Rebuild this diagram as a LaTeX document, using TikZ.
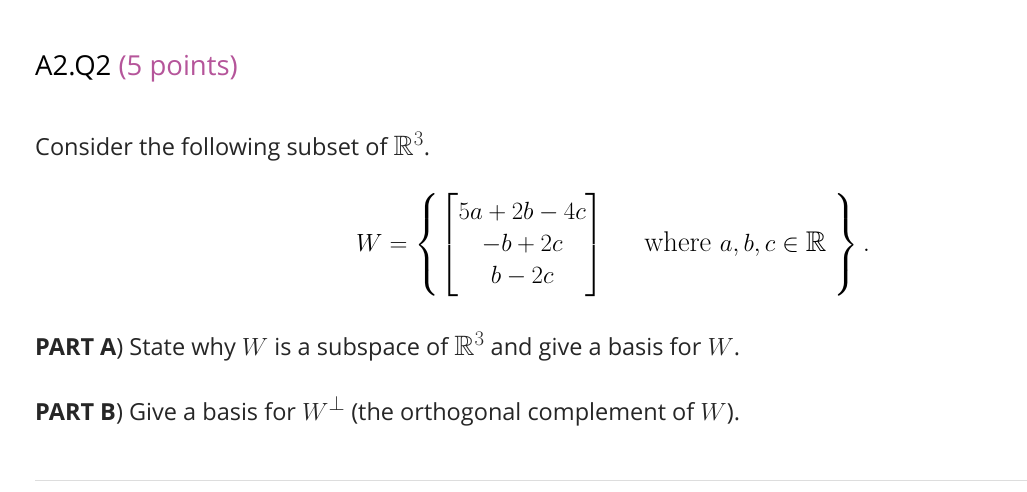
\documentclass[tikz,border=0pt]{standalone}
\usepackage{amsmath,amssymb}
\usepackage{fontspec}
\setmainfont{Open Sans}
\newfontfamily\lmr{Latin Modern Roman}
\definecolor{pts}{HTML}{B5559A}
\definecolor{rule}{HTML}{DDDDDD}
\newcommand{\mm}[1]{{\fontsize{28}{30}\selectfont$#1$}}
\begin{document}
\begin{tikzpicture}[x=1pt,y=1pt,txt/.style={anchor=base west,inner sep=0pt,font=\fontsize{23.5}{27}\selectfont\color{black!85}}]
\useasboundingbox (0,0) rectangle (1027,-491);
\node[txt,font=\fontsize{27.5}{32}\selectfont] (title) at (35,-75) {A2.Q2 \textcolor{pts}{(5 points)}};
\node[txt] (cons) at (35,-155) {Consider the following subset of \mm{\mathbb{R}^3}.};
\node[anchor=west,inner sep=0pt,font=\fontsize{28.5}{32}\selectfont] (eq) at (356,-245)
 {$W=\left\{\begin{bmatrix}5a+2b-4c\\ -b+2c\\ b-2c\end{bmatrix}\quad\; \text{\lmr where } a,b,c\in\mathbb{R}\ \right\}.$};
\node[txt] (pa) at (35,-355) {\textbf{PART A}) State why \mm{W} is a subspace of \mm{\mathbb{R}^3} and give a basis for \mm{W}.};
\node[txt] (pb) at (35,-420) {\textbf{PART B}) Give a basis for \mm{W^{\perp}} (the orthogonal complement of \mm{W}).};
\coordinate (l1) at (35,-480);
\coordinate (l2) at (1027,-480);
\draw[rule,line width=1pt] (l1) -- (l2);
\end{tikzpicture}
\end{document}
